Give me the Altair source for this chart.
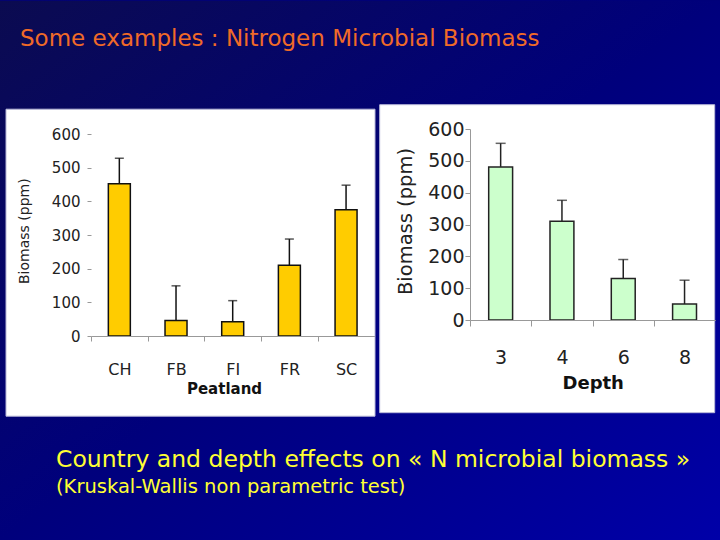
import altair as alt
import pandas as pd

TITLE = "Some examples : Nitrogen Microbial Biomass"
LINE1 = "Country and depth effects on « N microbial biomass »"
LINE2 = "(Kruskal-Wallis non parametric test)"

peatland = ["CH", "FB", "FI", "FR", "SC"]
peat_mean = [452, 46, 42, 210, 375]
peat_upper = [528, 149, 105, 288, 448]

depth = ["3", "4", "6", "8"]
depth_mean = [481, 310, 130, 50]
depth_upper = [555, 376, 190, 125]

y_ticks = [0, 100, 200, 300, 400, 500, 600]

FONT = "DejaVu Sans"
one = pd.DataFrame({"k": [0]})

peat_df = pd.DataFrame({"cat": peatland, "mean": peat_mean, "upper": peat_upper})
depth_df = pd.DataFrame({"cat": depth, "mean": depth_mean, "upper": depth_upper})

# ---------------- left panel ----------------
LW, LH = 283.4, 207
lstep = LW / len(peatland)

lx = alt.X("cat:N", sort=peatland,
           scale=alt.Scale(paddingInner=0.612, paddingOuter=0.306),
           axis=alt.Axis(title="Peatland", labelAngle=0, labelFont=FONT, labelFontSize=16,
                         labelColor="#222222", labelPadding=20, tickSize=5, tickColor="#999999",
                         domainColor="#999999", tickOffset=-lstep / 2, labelOffset=lstep / 2,
                         titleFont=FONT, titleFontSize=15, titleFontWeight="bold",
                         titleColor="#111111", titleX=133, titleY=52, titleBaseline="middle",
                         titleAlign="center", zindex=1))
lscale = alt.Scale(domain=[0, 600], range=[LH, 5], nice=False)
laxis = alt.Axis(title="Biomass (ppm)", values=y_ticks, grid=False, domain=False,
                 tickSize=4, tickColor="#999999", labelFont=FONT, labelFontSize=15,
                 labelColor="#222222", labelPadding=7, titleFont=FONT, titleFontSize=14,
                 titleFontWeight="normal", titleColor="#222222", titleX=-67, titleY=101.7,
                 titleAlign="center", titleBaseline="middle", titleAngle=270, zindex=1)

bg = alt.Chart(one).mark_rect(
    fill=alt.LinearGradient(gradient="linear",
                            stops=[alt.GradientStop(color="#0b0b50", offset=0),
                                   alt.GradientStop(color="#00007c", offset=0.5),
                                   alt.GradientStop(color="#0000a8", offset=1)],
                            x1=0, y1=0, x2=1, y2=1)
).encode(x=alt.value(-91), x2=alt.value(629), y=alt.value(-128.3), y2=alt.value(411.7))

lpanel = alt.Chart(one).mark_rect(fill="white", stroke="#b8b8d8", strokeWidth=1).encode(
    x=alt.value(-85), x2=alt.value(284), y=alt.value(-19.8), y2=alt.value(287.2))

lbase = alt.Chart(peat_df).encode(x=lx)
lbars = lbase.mark_bar(fill="#FFCC00", stroke="#111111", strokeWidth=1.5).encode(
    y=alt.Y("mean:Q", scale=lscale, axis=laxis))
lrule = lbase.mark_rule(color="#111111", strokeWidth=1.5).encode(
    y=alt.Y("mean:Q", scale=lscale, axis=laxis), y2="upper:Q")
lcap = lbase.mark_tick(color="#111111", thickness=1.5, size=9, orient="horizontal").encode(
    y=alt.Y("upper:Q", scale=lscale, axis=laxis))

t_title = alt.Chart(pd.DataFrame({"t": [TITLE]})).mark_text(
    align="left", baseline="alphabetic", font=FONT, fontSize=23, color="#F06A28"
).encode(x=alt.value(-71), y=alt.value(-83.3), text="t:N")
t_line1 = alt.Chart(pd.DataFrame({"t": [LINE1]})).mark_text(
    align="left", baseline="alphabetic", font=FONT, fontSize=23.5, color="#FFFF33"
).encode(x=alt.value(-35), y=alt.value(337.7), text="t:N")
t_line2 = alt.Chart(pd.DataFrame({"t": [LINE2]})).mark_text(
    align="left", baseline="alphabetic", font=FONT, fontSize=19.5, color="#FFFF33"
).encode(x=alt.value(-35), y=alt.value(363.7), text="t:N")

left = alt.layer(bg, lpanel, lrule, lbars, lcap, t_title, t_line1, t_line2).properties(
    width=LW, height=LH)

# ---------------- right panel ----------------
RW, RH = 245.2, 191
rstep = RW / len(depth)

rx = alt.X("cat:N", sort=depth,
           scale=alt.Scale(paddingInner=0.61, paddingOuter=0.305),
           axis=alt.Axis(title="Depth", labelAngle=0, labelFont=FONT, labelFontSize=19,
                         labelColor="#222222", labelPadding=22, tickSize=6, tickColor="#999999",
                         domainColor="#999999", tickOffset=-rstep / 2, labelOffset=rstep / 2,
                         titleFont=FONT, titleFontSize=18, titleFontWeight="bold",
                         titleColor="#111111", titleX=122.7, titleY=63.7, titleBaseline="middle",
                         titleAlign="center", zindex=1))
rscale = alt.Scale(domain=[0, 600], nice=False)
raxis = alt.Axis(title="Biomass (ppm)", values=y_ticks, grid=False, domain=True,
                 domainColor="#999999", tickSize=5, tickColor="#999999", labelFont=FONT,
                 labelFontSize=19, labelColor="#222222", labelPadding=1, titleFont=FONT,
                 titleFontSize=19.5, titleFontWeight="normal", titleColor="#222222",
                 titleX=-65, titleY=92, titleAlign="center", titleBaseline="middle",
                 titleAngle=270, zindex=1)

rpanel = alt.Chart(one).mark_rect(fill="white", stroke="#b8b8d8", strokeWidth=1).encode(
    x=alt.value(-90.3), x2=alt.value(244.7), y=alt.value(-24.3), y2=alt.value(283.7))

rbase = alt.Chart(depth_df).encode(x=rx)
rbars = rbase.mark_bar(fill="#CCFFCC", stroke="#222222", strokeWidth=1.5).encode(
    y=alt.Y("mean:Q", scale=rscale, axis=raxis))
rrule = rbase.mark_rule(color="#222222", strokeWidth=1.5).encode(
    y=alt.Y("mean:Q", scale=rscale, axis=raxis), y2="upper:Q")
rcap = rbase.mark_tick(color="#222222", thickness=1.5, size=10, orient="horizontal").encode(
    y=alt.Y("upper:Q", scale=rscale, axis=raxis))

right = alt.layer(rpanel, rrule, rbars, rcap).properties(width=RW, height=RH)

chart = alt.hconcat(left, right, spacing=95, bounds="flush").properties(
    padding=0, background="#00007a"
).configure_view(strokeWidth=0)

chart.save("out.html", embed_options={"renderer": "svg", "actions": False})
